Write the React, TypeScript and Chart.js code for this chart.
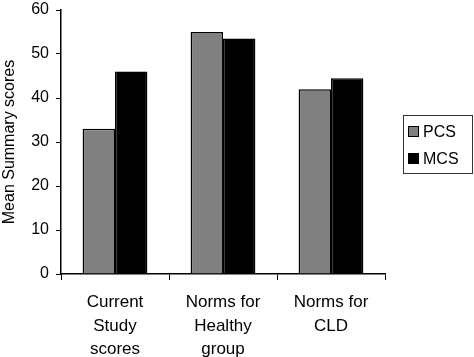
import React, { useEffect, useRef } from "react";
import { Chart, registerables } from "chart.js";

Chart.register(...registerables);

const categories: string[][] = [
  ["Current", "Study", "scores"],
  ["Norms for", "Healthy", "group"],
  ["Norms for", "CLD"],
];
const seriesNames = ["PCS", "MCS"];
const pcsValues = [33, 55, 42];
const mcsValues = [46, 53.5, 44.5];
const seriesColors = ["#808080", "#000000"];
const yTicks = [0, 10, 20, 30, 40, 50, 60];
const yTitle = "Mean Summary scores";

const FONT = "'Liberation Sans', Arial, sans-serif";

const boxLegend = {
  id: "boxLegend",
  afterDraw(chart: any) {
    const { ctx, chartArea } = chart;
    const x = chartArea.right + 18;
    const w = 69;
    const rowH = 27;
    const h = 58;
    const cy = (chartArea.top + chartArea.bottom) / 2 + 2;
    const y = cy - h / 2;
    ctx.save();
    ctx.strokeStyle = "#333";
    ctx.lineWidth = 1;
    ctx.strokeRect(Math.round(x) + 0.5, Math.round(y) + 0.5, w, h);
    ctx.font = `16px ${FONT}`;
    ctx.textBaseline = "middle";
    ctx.textAlign = "left";
    chart.data.datasets.forEach((ds: any, i: number) => {
      const rowY = y + 16.5 + i * rowH;
      ctx.fillStyle = ds.backgroundColor;
      ctx.fillRect(Math.round(x + 5), Math.round(rowY - 5.5), 11, 11);
      ctx.strokeStyle = "#000";
      ctx.strokeRect(Math.round(x + 5) + 0.5, Math.round(rowY - 5.5) + 0.5, 10, 10);
      ctx.fillStyle = "#000";
      ctx.fillText(ds.label, x + 20, rowY + 1);
    });
    ctx.restore();
  },
};

export default function App() {
  const ref = useRef<HTMLCanvasElement>(null);
  useEffect(() => {
    if (!ref.current) return;
    const chart = new Chart(ref.current, {
      type: "bar",
      data: {
        labels: categories,
        datasets: [
          {
            label: seriesNames[0],
            data: pcsValues,
            backgroundColor: seriesColors[0],
            borderColor: "#000",
            borderWidth: 1.5,
          },
          {
            label: seriesNames[1],
            data: mcsValues,
            backgroundColor: seriesColors[1],
            borderColor: "#000",
            borderWidth: 1.5,
          },
        ],
      },
      options: {
        responsive: false,
        animation: false,
        layout: { padding: { top: 10, right: 89, left: 0, bottom: 0 } },
        plugins: {
          legend: { display: false },
          tooltip: { enabled: false },
        },
        datasets: { bar: { categoryPercentage: 0.6, barPercentage: 1 } },
        scales: {
          x: {
            grid: {
              display: true,
              drawOnChartArea: false,
              drawTicks: true,
              tickLength: 6,
              color: "#000",
              offset: true,
            },
            border: { color: "#000", width: 1.5 },
            ticks: {
              color: "#000",
              font: { family: FONT, size: 17, lineHeight: 1.38 },
              padding: 11,
              maxRotation: 0,
              autoSkip: false,
            },
            afterFit(scale: any) {
              scale.height = 357 - 274;
            },
          },
          y: {
            min: 0,
            max: 60,
            afterBuildTicks(scale: any) {
              scale.ticks = yTicks.map((v) => ({ value: v }));
            },
            grid: {
              display: true,
              drawOnChartArea: false,
              drawTicks: true,
              tickLength: 5,
              color: "#000",
            },
            border: { color: "#000", width: 1.5 },
            ticks: {
              color: "#000",
              font: { family: FONT, size: 16 },
              padding: 7,
            },
            title: {
              display: true,
              text: yTitle,
              color: "#000",
              font: { family: FONT, size: 16 },
              padding: { top: 0, bottom: 0 },
            },
            afterFit(scale: any) {
              scale.width = 61;
              scale.paddingTop = 0;
              scale.paddingBottom = 0;
            },
          },
        },
      },
      plugins: [boxLegend],
    });
    return () => chart.destroy();
  }, []);
  return (
    <div style={{ position: "absolute", left: 0, top: 0, width: 474, height: 357, background: "#fff" }}>
      <canvas ref={ref} width={474} height={357} style={{ display: "block" }} />
    </div>
  );
}
